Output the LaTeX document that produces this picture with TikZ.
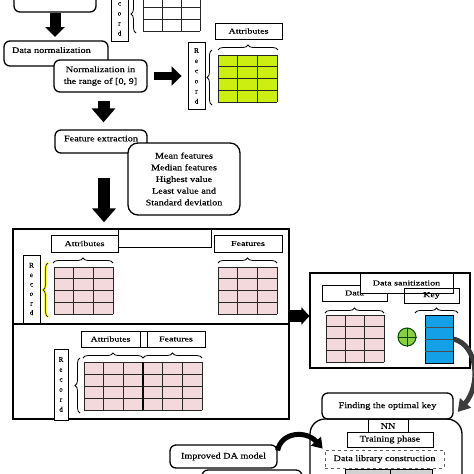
\documentclass[tikz,border=0pt]{standalone}
\usepackage{fontspec}
\setmainfont{Liberation Serif}[FakeStretch=1.2,FakeBold=0.3]
\newfontfamily\smallfont{Liberation Serif}[FakeStretch=1.33,FakeBold=0.3]
\newfontfamily\recfont{Liberation Serif}[FakeBold=0.3]
\usetikzlibrary{arrows.meta,decorations.pathreplacing}
\definecolor{limecell}{RGB}{204,238,17}
\definecolor{cellpink}{RGB}{243,216,220}
\definecolor{keyblue}{RGB}{20,160,230}
\definecolor{xorgreen}{RGB}{140,205,70}
\definecolor{curvegray}{RGB}{60,60,60}
\newcommand{\gridtable}[7]{%
  \fill[#7] (#1,#2) rectangle (#3,#4);
  \foreach \kk in {0,...,#5} \draw[tline] ({#1+\kk*(#3-#1)/#5},#2) -- ({#1+\kk*(#3-#1)/#5},#4);
  \foreach \kk in {0,...,#6} \draw[tline] (#1,{#2+\kk*(#4-#2)/#6}) -- (#3,{#2+\kk*(#4-#2)/#6});
}
\begin{document}
\begin{tikzpicture}[x=1pt,y=-1pt,
  every node/.style={font=\fontsize{8.5}{11.7}\selectfont},
  rbox/.style={draw, line width=1.3pt, rounded corners=6pt, fill=white, inner sep=1pt},
  pbox/.style={draw, line width=0.9pt, fill=white, inner sep=1pt},
  slabel/.style={font=\smallfont\fontsize{7.5}{9}\selectfont},
  recbox/.style={draw, line width=0.9pt, fill=white, inner sep=1pt, align=center},
  tline/.style={line width=1pt, black!85},
  bracestyle/.style={decorate, decoration={brace, amplitude=5pt}, line width=0.8pt},
  arrowA/.style={line width=11pt, -{Triangle[width=19pt,length=10pt]}},
  arrowR/.style={line width=8pt, -{Triangle[width=19pt,length=10pt]}},
  arrowB/.style={line width=12pt, -{Triangle[width=23pt,length=14pt]}},
  arrowD/.style={line width=12pt, -{Triangle[width=17pt,length=8pt]}},
]
\useasboundingbox (0,0) rectangle (474,474);
\clip (0,0) rectangle (474,474);
\fill[white] (0,0) rectangle (474,474);

% ---- top part
\node[rbox, minimum width=82pt, minimum height=24pt] (top) at (55,0) {};
\coordinate (a1end) at (55,37);
\draw[arrowA] (top.south) -- (a1end);
\node[recbox, minimum width=17pt, minimum height=66pt] (rec1) at (119.5,8) {};
\node[font=\recfont\fontsize{7}{10}\selectfont, align=center, inner sep=0pt] (rec1t) at (119.5,19) {c\\o\\r\\d};
\draw[bracestyle] (136,33) -- (136,-5);
\gridtable{143}{-17}{200}{31}{3}{4}{white}

% ---- normalization
\node[rbox, minimum width=104pt, minimum height=25pt, text width=88pt, align=left, text depth=7pt] (dn) at (56,53.5) {Data normalization};
\node[rbox, minimum width=93pt, minimum height=32pt, align=center] (nr) at (100.5,76) {Normalization in\\the range of [0, 9]};
\node[recbox, minimum width=17pt, minimum height=67pt, font=\recfont\fontsize{7}{10.2}\selectfont] (rec2) at (196.5,76) {R\\e\\c\\o\\r\\d};
\draw[arrowR] ([xshift=6pt]nr.east) -- ([xshift=-6pt]rec2.west);
\draw[bracestyle] (212,105) -- (212,50);
\node[pbox, slabel, minimum width=67pt, minimum height=16pt] (attr1) at (248.5,31) {Attributes};
\draw[bracestyle] (218,50) -- (278,50);
\gridtable{218}{55}{277}{102}{3}{4}{limecell}

% ---- feature extraction
\node[rbox, minimum width=92pt, minimum height=23pt, text depth=6pt] (fe) at (101,141.5) {Feature extraction};
\draw[arrowB, shorten <=8pt, shorten >=7pt] ([xshift=3pt]nr.south) -- ([xshift=3pt]nr.south |- fe.north);
\node[rbox, rounded corners=10pt, minimum width=112pt, minimum height=72pt, align=center] (fl) at (184,179) {Mean features\\Median features\\Highest value\\Least value and\\Standard deviation};

% ---- big box
\node[draw, line width=1.3pt, minimum width=276pt, minimum height=190pt] (big) at (151,324) {};
\draw[line width=1.3pt] (big.west) -- (big.east);
\draw[arrowB, shorten <=24pt, shorten >=6pt] ([xshift=3pt]fe.south) -- ([xshift=3pt]fe.south |- big.north);

% top section
\node[pbox, minimum width=93pt, minimum height=18pt] (blank) at (164.5,238) {};
\node[pbox, slabel, minimum width=67pt, minimum height=17pt] (attrA) at (84.5,243.5) {Attributes};
\node[pbox, slabel, minimum width=68pt, minimum height=17pt] (featA) at (248,243.5) {Features};
\node[recbox, minimum width=17pt, minimum height=68pt, font=\recfont\fontsize{7}{9.5}\selectfont] (recA) at (31.5,289) {R\\e\\c\\o\\r\\d};
\draw[decorate, decoration={brace, amplitude=5pt}, line width=2.2pt, yellow] (48,317) -- (48,263);
\draw[bracestyle, line width=0.5pt] (48,317) -- (48,263);
\draw[bracestyle] (53,263) -- (113,263);
\gridtable{54}{267}{113}{314}{3}{4}{cellpink}
\draw[bracestyle] (218,263) -- (277,263);
\gridtable{218}{267}{277}{314}{3}{4}{cellpink}

% bottom section
\node[pbox, slabel, minimum width=59pt, minimum height=16pt] (attrC) at (110.5,339) {Attributes};
\node[pbox, minimum width=7pt, minimum height=16pt] (gapC) at (143.5,339) {};
\node[pbox, slabel, minimum width=58pt, minimum height=16pt] (featC) at (176,339) {Features};
\node[recbox, minimum width=14pt, minimum height=71pt, font=\recfont\fontsize{7}{10}\selectfont] (recC) at (61,384.5) {R\\e\\c\\o\\r\\d};
\draw[bracestyle] (80,413) -- (80,358);
\draw[bracestyle] (83,358) -- (143,358);
\draw[bracestyle] (143,358) -- (202,358);
\gridtable{84}{362}{202}{410}{6}{4}{cellpink}
\draw[line width=1.6pt] (143,362) -- (143,410);

% ---- data sanitization
\node[draw, line width=1.1pt, minimum width=160pt, minimum height=95pt] (ds) at (390,320.5) {};
\draw[arrowD] ([yshift=8pt]big.east) -- ([yshift=8pt]big.east -| ds.west);
\node[pbox, slabel, minimum width=65pt, minimum height=16pt] (dataB) at (354.5,293) {Data};
\node[pbox, slabel, minimum width=93pt, minimum height=20pt] (dsB) at (406.5,283) {Data sanitization};
\node[draw, line width=0.9pt, slabel, minimum width=55pt, minimum height=15pt] (keyB) at (431.5,295.5) {Key};
\draw[bracestyle] (325,313) -- (384,313);
\gridtable{326}{315}{384}{362}{3}{4}{cellpink}
\node[circle, draw=black!70!green, line width=1pt, fill=xorgreen, minimum size=18pt, inner sep=0pt] (xor) at (407,337) {};
\draw[line width=1pt, black!70!green] (xor.north) -- (xor.south) (xor.west) -- (xor.east);
\draw[bracestyle] (415,313) -- (458,313);
\node[draw, line width=1pt, fill=keyblue, minimum width=28pt, minimum height=48pt, inner sep=0pt] (keycol) at (439,339) {};
\foreach \yy in {327,339,351} \draw[line width=1pt, black!70] (425,\yy) -- (453,\yy);

% ---- finding the optimal key and below
\node[rbox, minimum width=131pt, minimum height=26pt] (fk) at (387.5,406) {Finding the optimal key};
\draw[line width=5pt, curvegray, -{Triangle[width=14pt,length=12pt]}] (keycol.east) .. controls (478,345) and (481,385) .. ([xshift=4pt,yshift=-6pt]fk.east);
\node[draw, line width=1.3pt, rounded corners=15pt, minimum width=152pt, minimum height=72pt] (cont) at (386,455) {};
\node[pbox, minimum width=40pt, minimum height=14pt] (nn) at (388,426) {NN};
\node[pbox, minimum width=86pt, minimum height=15pt] (tp) at (390,439.5) {Training phase};
\node[draw=black!60, dashed, line width=0.8pt, minimum width=119pt, minimum height=18pt] (dlc) at (384.5,459) {Data library construction};
\node[draw, line width=0.9pt, fill=gray!35, minimum width=87pt, minimum height=14pt] (low) at (388.5,476) {};
\draw[line width=0.9pt] (390,469) -- (390,480);

\node[rbox, minimum width=107pt, minimum height=23pt] (ida) at (223.5,456.5) {Improved DA model};
\node[rbox, minimum width=100pt, minimum height=24pt] (idb) at (252,482) {};
\draw[line width=5pt, -{Triangle[width=13pt,length=10pt]}] ([yshift=6pt]ida.east) .. controls (281,432) and (306,430) .. ([xshift=-2pt,yshift=1pt]dlc.north west);
\end{tikzpicture}
\end{document}
